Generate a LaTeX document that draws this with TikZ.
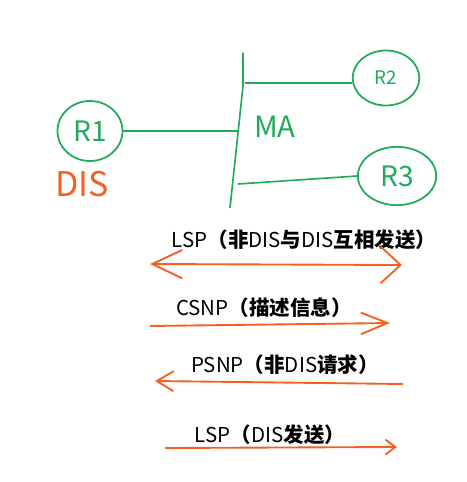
\documentclass[tikz,border=0pt]{standalone}
\usepackage{fontspec}
\setmainfont{Noto Sans CJK SC}
\usetikzlibrary{shapes.geometric,arrows.meta}

\definecolor{penGreen}{RGB}{34,170,92}
\definecolor{penOrange}{RGB}{244,96,34}

\tikzset{
  router/.style={draw=penGreen, ellipse, line width=1.5pt, text=penGreen, inner sep=0pt},
  link/.style={draw=penGreen, line width=1.4pt},
  msg/.style={draw=penOrange, line width=1.6pt},
  msglabel/.style={font=\fontsize{17.5}{20}\selectfont, inner sep=0pt}
}

\begin{document}
\begin{tikzpicture}[x=0.03cm, y=-0.03cm]
  \useasboundingbox (0,0) rectangle (466,482);

  % routers
  \node[router, minimum width=1.95cm, minimum height=1.8cm, font=\fontsize{24}{26}\selectfont] (r1) at (90,131) {R1};
  \node[router, minimum width=2.0cm, minimum height=1.65cm, font=\fontsize{16}{18}\selectfont] (r2) at (386,78) {R2};
  \node[router, minimum width=2.35cm, minimum height=1.75cm, font=\fontsize{24}{26}\selectfont] (r3) at (397,176) {R3};

  \node[text=penOrange, font=\fontsize{29}{31}\selectfont] (dis) at (82,184) {DIS};
  \node[text=penGreen, font=\fontsize{25}{27}\selectfont] (ma) at (275,127) {MA};

  % MA bus
  \coordinate (busTop) at (243,53);
  \coordinate (busKnee) at (243,86);
  \coordinate (busBot) at (230,208);
  \coordinate (busR1) at (239,134);
  \coordinate (busR2) at (245,83);
  \coordinate (busR3) at (238,184);
  \draw[link] (busTop) -- (busKnee) -- (busBot);

  % links
  \draw[link] (r1.east) -- (busR1 |- r1.east);
  \draw[link] (busR2) -- (busR2 -| r2.west);
  \draw[link] (busR3) -- (r3.west);

  % messages
  \node[msglabel] (lspA) at (304,240) {LSP\textbf{（非}DIS\textbf{与}DIS\textbf{互相发送）}};
  \coordinate (lspA-l) at (150,264);
  \coordinate (lspA-r) at (402,265);
  \draw[msg, {Straight Barb[length=9mm, width=8.5mm]}-{Straight Barb[length=6mm, width=11mm]}] (lspA-l) -- (lspA-r);

  \node[msglabel] (csnp) at (264,308) {CSNP\textbf{（描述信息）}};
  \coordinate (csnp-l) at (150,326);
  \coordinate (csnp-r) at (390,323);
  \draw[msg, -{Straight Barb[length=8mm, width=6.5mm]}] (csnp-l) -- (csnp-r);

  \node[msglabel] (psnp) at (285,365) {PSNP\textbf{（非}DIS\textbf{请求）}};
  \coordinate (psnp-r) at (403,384);
  \coordinate (psnp-l) at (155,381);
  \draw[msg, -{Straight Barb[length=5mm, width=6mm]}] (psnp-r) -- (psnp-l);

  \node[msglabel] (lspB) at (270,435) {LSP\textbf{（}DIS\textbf{发送）}};
  \coordinate (lspB-l) at (165,448);
  \coordinate (lspB-r) at (397,447);
  \draw[msg, -{Straight Barb[length=3mm, width=4.5mm]}] (lspB-l) -- (lspB-r);
\end{tikzpicture}
\end{document}
